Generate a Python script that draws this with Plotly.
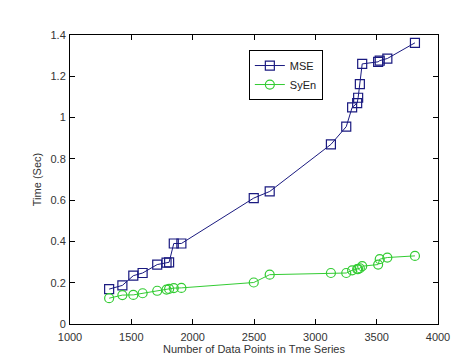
import plotly.graph_objects as go

n_points = [1319, 1427, 1516, 1592, 1711, 1787, 1808, 1846, 1908, 2498, 2628,
            3127, 3252, 3300, 3341, 3349, 3363, 3382, 3512, 3525, 3587, 3812]
mse_time = [0.169, 0.187, 0.234, 0.247, 0.288, 0.297, 0.299, 0.390, 0.390, 0.610, 0.642,
            0.870, 0.956, 1.049, 1.070, 1.096, 1.162, 1.260, 1.270, 1.276, 1.286, 1.362]
syen_time = [0.125, 0.140, 0.141, 0.149, 0.161, 0.167, 0.170, 0.174, 0.175, 0.201, 0.239,
             0.247, 0.247, 0.260, 0.266, 0.266, 0.270, 0.280, 0.288, 0.314, 0.322, 0.330]

fig = go.Figure()
fig.add_trace(go.Scatter(
    x=n_points, y=mse_time, name="MSE", mode="lines+markers",
    line=dict(color="#1a1a80", width=1),
    marker=dict(symbol="square-open", size=9, color="#1a1a80", line=dict(width=1.2)),
))
fig.add_trace(go.Scatter(
    x=n_points, y=syen_time, name="SyEn", mode="lines+markers",
    line=dict(color="#33cc33", width=1),
    marker=dict(symbol="circle-open", size=9, color="#33cc33", line=dict(width=1.2)),
))

axis_common = dict(
    showline=True, linecolor="black", linewidth=1, mirror="allticks",
    ticks="inside", ticklen=5, tickcolor="black", showgrid=False, zeroline=False,
    tickfont=dict(family="Liberation Sans, Arial", size=11, color="#333333"),
)
fig.update_xaxes(range=[1000, 4000], dtick=500, ticklabelstandoff=3, **axis_common,
                 title=dict(text="Number of Data Points in Tme Series",
                            font=dict(family="Liberation Sans, Arial", size=11, color="#333333"),
                            standoff=0))
fig.update_yaxes(range=[0, 1.4], dtick=0.2, ticklabelstandoff=1, **axis_common,
                 title=dict(text="Time (Sec)",
                            font=dict(family="Liberation Sans, Arial", size=11, color="#333333"),
                            standoff=6))
fig.update_layout(
    width=474, height=355,
    margin=dict(l=62, r=44, t=27, b=39),
    paper_bgcolor="white", plot_bgcolor="white",
    legend=dict(x=0.486, y=0.948, xanchor="left", yanchor="top",
                bordercolor="black", borderwidth=1, bgcolor="white",
                font=dict(family="Liberation Sans, Arial", size=11, color="#222222"),
                tracegroupgap=0, itemwidth=30),
    showlegend=True,
)
fig.write_html("out.html")
